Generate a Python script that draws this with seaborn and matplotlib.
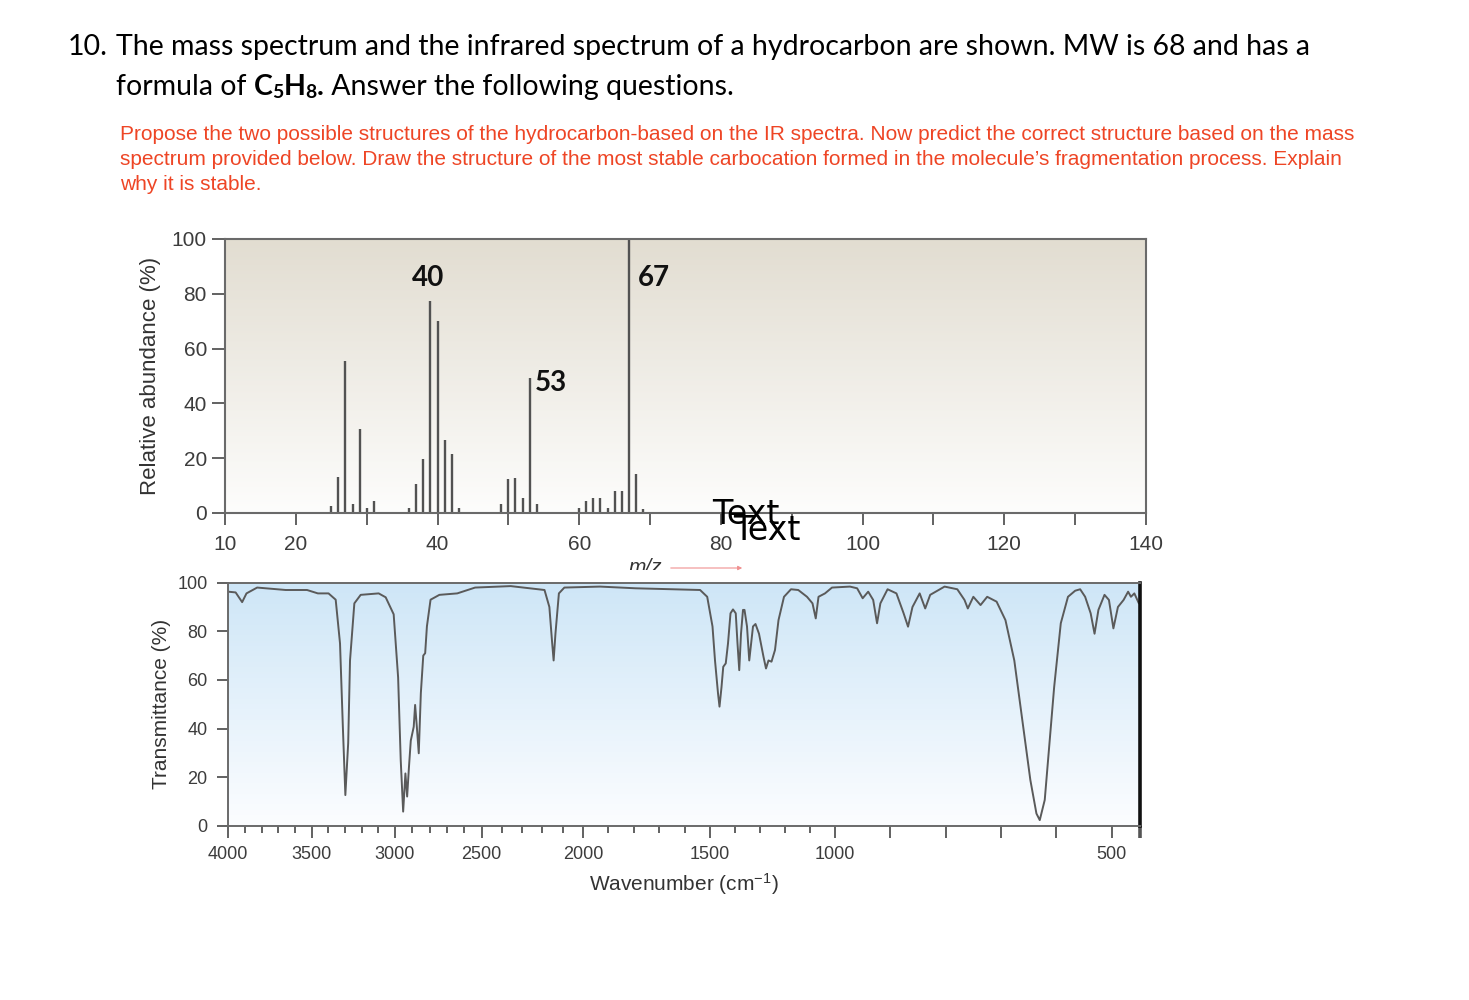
import numpy as np
import pandas as pd
import matplotlib
matplotlib.use("Agg")
import matplotlib.pyplot as plt
import seaborn as sns
from matplotlib.patches import Rectangle, FancyArrowPatch

# ---------------- data ----------------
ms_mz = [25, 26, 27, 28, 29, 30, 31,
         36, 37, 38, 39, 40, 41, 42, 43,
         49, 50, 51, 52, 53, 54,
         60, 61, 62, 63, 64, 65, 66, 67, 68, 69]
ms_abundance = [2.7, 13, 55.4, 3.2, 30.8, 1.9, 4.4,
                1.9, 10.6, 19.8, 77.5, 70.2, 26.5, 21.6, 1.9,
                3.2, 12.3, 12.9, 5.6, 49.2, 3.2,
                1.9, 4.4, 5.6, 5.6, 1.9, 8.1, 8.1, 100, 14.1, 1.3]
ms_xticks = [10, 20, 30, 40, 50, 60, 70, 80, 90, 100, 110, 120, 130, 140]
ms_xticklabels = ['10', '20', '', '40', '', '60', '', '80', '', '100', '', '120', '', '140']
ms_yticks = [0, 20, 40, 60, 80, 100]
ms_peak_labels = ['40', '53', '67']

ir_wavenumber = [4000, 3956, 3917, 3891, 3827, 3656, 3528, 3463, 3399, 3356,
                 3330, 3313, 3298, 3281, 3270, 3244, 3206, 3098, 3056, 3008,
                 2982, 2967, 2953, 2940, 2930, 2920, 2909, 2892, 2884, 2874,
                 2863, 2851, 2837, 2826, 2816, 2795, 2744, 2641, 2538, 2357,
                 2190, 2166, 2153, 2145, 2136, 2119, 2092, 1933, 1793, 1652,
                 1539, 1511, 1490, 1480, 1468, 1462, 1454, 1447, 1437, 1428,
                 1418, 1408, 1397, 1390, 1383, 1376, 1368, 1362, 1352, 1343,
                 1337, 1328, 1318, 1304, 1286, 1276, 1266, 1254, 1240, 1226,
                 1204, 1176, 1147, 1112, 1090, 1077, 1066, 1040, 1012, 973,
                 960, 950, 940, 931, 924, 918, 905, 889, 876, 868,
                 860, 847, 837, 828, 802, 779, 766, 760, 750, 737,
                 725, 708, 692, 676, 660, 647, 636, 630, 621, 613,
                 604, 592, 579, 566, 557, 548, 538, 531, 524, 513,
                 505, 497, 489, 479, 471, 466, 460, 452]
ir_transmittance = [96.3, 96, 92, 95.6, 98, 97, 97, 95.6, 95.6, 93,
                    75, 40.7, 12.6, 34, 68, 91.5, 95, 95.6, 94, 87,
                    61, 27, 5.8, 21.5, 12, 23.6, 35, 40.7, 49.7, 40.7,
                    29.8, 54.5, 70, 71, 82, 93, 95, 95.6, 98, 98.6,
                    97, 90, 76, 68, 79, 95.6, 98, 98.4, 97.7, 97.3,
                    97, 94.2, 82, 68, 54.5, 49, 57, 65.4, 66.8, 75,
                    87.4, 89, 87.4, 75, 64, 79, 88.8, 88.8, 82, 68,
                    73.7, 82, 83, 79, 69.5, 64.7, 68, 67.5, 72.3, 84.6,
                    94.2, 97.3, 97, 94.2, 91.5, 85.3, 94.2, 95.6, 98, 98.4,
                    97.7, 93.6, 96.3, 92.9, 83.3, 91.5, 97.3, 95.6, 87.4, 81.9,
                    90, 95.6, 89.4, 95, 98.4, 97.3, 92.9, 89.4, 94.2, 90.8,
                    94.2, 92.2, 84.6, 68, 40.7, 18.8, 5, 2.3, 10.6, 32.5,
                    57, 83.3, 94.2, 96.7, 97.3, 94.2, 87.4, 79, 88.8, 95,
                    92.9, 81.2, 90, 92.9, 96.3, 94.2, 95.6, 91.5]
ir_major_ticks = [4000, 3500, 3000, 2500, 2000, 1500, 1000, 900, 800, 700, 600, 500, 450]
ir_major_labels = ['4000', '3500', '3000', '2500', '2000', '1500', '1000', '', '', '', '', '500', '']
ir_minor_ticks = [w for w in range(1100, 4000, 100) if w % 500 != 0]
ir_yticks = [0, 20, 40, 60, 80, 100]

# ---------------- figure ----------------
sns.set_style("white")
plt.rcParams['font.family'] = ['Liberation Sans', 'DejaVu Sans']
plt.rcParams['mathtext.fontset'] = 'custom'
plt.rcParams['mathtext.rm'] = 'Liberation Sans'
plt.rcParams['mathtext.it'] = 'Liberation Sans:italic'
plt.rcParams['mathtext.bf'] = 'Liberation Sans:bold'

W, H = 1469, 1000
fig = plt.figure(figsize=(W / 100, H / 100), dpi=100)
fig.patch.set_facecolor('white')


def fx(px):
    return px / W


def fy(py):
    return 1 - py / H


def gradient_bg(box, top_rgb, bot_rgb):
    bg = fig.add_axes(box, zorder=0)
    g = np.linspace(0, 1, 256).reshape(-1, 1, 1)
    top = np.array(top_rgb, float).reshape(1, 1, 3) / 255
    bot = np.array(bot_rgb, float).reshape(1, 1, 3) / 255
    img = top * (1 - g) + bot * g
    bg.imshow(img, aspect='auto', extent=[0, 1, 0, 1], interpolation='bilinear')
    bg.set_axis_off()
    return bg


AX_GRAY = '#6a6a6a'
TICK_TXT = '#3c3c3c'

# ---------- mass spectrum ----------
ms_box = [fx(225), fy(513), fx(1146) - fx(225), fy(239) - fy(513)]
gradient_bg(ms_box, (226, 221, 209), (253, 253, 252))
ax1 = fig.add_axes(ms_box, zorder=1)
ax1.set_facecolor('none')
ax1.vlines(ms_mz, 0, ms_abundance, colors='#525252', linewidth=1.7, zorder=2)
ax1.set_xlim(10, 140)
ax1.set_ylim(0, 100)
ax1.set_xticks(ms_xticks, labels=ms_xticklabels)
ax1.set_yticks(ms_yticks)
for sp in ax1.spines.values():
    sp.set_visible(True)
    sp.set_color(AX_GRAY)
    sp.set_linewidth(1.5)
ax1.tick_params(axis='x', direction='out', length=8.5, width=1.3, color='#555555',
                labelsize=15, labelcolor=TICK_TXT, pad=7, bottom=True)
ax1.tick_params(axis='y', direction='out', length=9.5, width=1.3, color='#555555',
                labelsize=15, labelcolor=TICK_TXT, pad=3.5, left=True)
ax1.set_ylabel('Relative abundance (%)', fontsize=16, color='#333333')
ax1.yaxis.set_label_coords(-0.0695, 0.5)

lab_font = dict(family=['Lato', 'DejaVu Sans'], fontweight='bold', fontsize=20, color='#111111')
ax1.text(38.65, 85.8, ms_peak_labels[0], ha='center', va='center', **lab_font)
ax1.text(53.75, 47.3, ms_peak_labels[1], ha='left', va='center', **lab_font)
ax1.text(68.3, 85.8, ms_peak_labels[2], ha='left', va='center', **lab_font)

# ---------- IR spectrum ----------
ir_box = [fx(228.3), fy(825.7), fx(1140) - fx(228.3), fy(582.7) - fy(825.7)]
gradient_bg(ir_box, (206, 230, 247), (252, 253, 255))
ax2 = fig.add_axes(ir_box, zorder=1)
ax2.set_facecolor('none')

ir_df = pd.DataFrame({'Wavenumber': ir_wavenumber, 'Transmittance': ir_transmittance})
sns.lineplot(data=ir_df, x='Wavenumber', y='Transmittance', ax=ax2, sort=False,
             estimator=None, color='#5a5a5a', linewidth=1.4)

# piecewise-linear wavenumber axis as printed in the reference
wn_bp = np.array([450, 500, 1000, 1500, 2000, 2500, 3000, 3500, 4000], float)
pos_bp = -np.array([1140, 1111.7, 835, 710, 583, 481.7, 395, 311.7, 228.3], float)


def interp_ext(x, xp, fp):
    x = np.asarray(x, float)
    y = np.interp(x, xp, fp)
    y = np.where(x < xp[0], fp[0] + (x - xp[0]) * (fp[1] - fp[0]) / (xp[1] - xp[0]), y)
    y = np.where(x > xp[-1], fp[-1] + (x - xp[-1]) * (fp[-1] - fp[-2]) / (xp[-1] - xp[-2]), y)
    return y


def fwd(w):
    return interp_ext(w, wn_bp, pos_bp)


def inv(p):
    return interp_ext(p, pos_bp, wn_bp)


ax2.set_xscale('function', functions=(fwd, inv))
ax2.set_xlim(4000, 450)
ax2.set_ylim(0, 100)
ax2.set_xticks(ir_major_ticks, labels=ir_major_labels)
ax2.set_xticks(ir_minor_ticks, minor=True)
ax2.set_yticks(ir_yticks)
for name, sp in ax2.spines.items():
    sp.set_visible(True)
    sp.set_color(AX_GRAY)
    sp.set_linewidth(1.4)
ax2.spines['right'].set_color('#111111')
ax2.spines['right'].set_linewidth(2.6)
ax2.tick_params(axis='x', which='major', direction='out', length=8.5, width=1.3,
                color='#555555', labelsize=13, labelcolor=TICK_TXT, pad=6, bottom=True)
ax2.tick_params(axis='x', which='minor', direction='out', length=5, width=1.3,
                color='#555555', bottom=True)
ax2.tick_params(axis='y', direction='out', length=8, width=1.3, color='#555555',
                labelsize=13, labelcolor=TICK_TXT, pad=7, left=True)
last = ax2.xaxis.get_major_ticks()[-1]
last.tick1line.set_color('#111111')
last.tick1line.set_markeredgewidth(2.6)
ax2.set_xlabel('Wavenumber (cm$^{-1}$)', fontsize=15, color='#333333')
ax2.xaxis.set_label_coords(0.5, -0.185)
ax2.set_ylabel('Transmittance (%)', fontsize=15, color='#333333')
ax2.yaxis.set_label_coords(-0.063, 0.5)

# ---------- leftover labels between the plots ----------
fig.text(fx(645), fy(573), 'm/z', fontsize=15, style='italic', color='#333333',
         ha='center', va='baseline', zorder=3)
fig.patches.append(Rectangle((fx(560), fy(581)), fx(200), fy(570) - fy(581),
                             transform=fig.transFigure, facecolor='white',
                             edgecolor='none', zorder=5))
fig.patches.append(FancyArrowPatch((fx(668), fy(568)), (fx(745), fy(568)),
                                   transform=fig.transFigure, arrowstyle='-|>',
                                   mutation_scale=6, color='#f09090', lw=0.8, zorder=6))
fig.text(fx(712), fy(524), 'Text', fontsize=24, family='DejaVu Sans', color='black',
         ha='left', va='baseline', zorder=7)
fig.text(fx(733), fy(540), 'Text', fontsize=24, family='DejaVu Sans', color='black',
         ha='left', va='baseline', zorder=7)

# ---------- heading text ----------
renderer = fig.canvas.get_renderer()


def width_of(s, **kw):
    t = fig.text(0, 0, s + '|', **kw)
    t2 = fig.text(0, 0, '|', **kw)
    w = t.get_window_extent(renderer).width - t2.get_window_extent(renderer).width
    t.remove()
    t2.remove()
    return w


blk = dict(family=['Lato', 'DejaVu Sans'], color='black')
line1 = 'The mass spectrum and the infrared spectrum of a hydrocarbon are shown. MW is 68 and has a'
base = 20.0
size_blk = base * 1194 / width_of(line1, fontsize=base, **blk)
fig.text(fx(68), fy(55), '10.', fontsize=size_blk, va='baseline', ha='left', **blk)
fig.text(fx(116), fy(55), line1, fontsize=size_blk, va='baseline', ha='left', **blk)

pieces = [('formula of ', {}, 0, 1.0),
          ('C', {'fontweight': 'bold'}, 0, 1.0),
          ('5', {'fontweight': 'bold'}, 3, 0.68),
          ('H', {'fontweight': 'bold'}, 0, 1.0),
          ('8', {'fontweight': 'bold'}, 3, 0.68),
          ('.', {'fontweight': 'bold'}, 0, 1.0),
          (' Answer the following questions.', {}, 0, 1.0)]
x = 116
for s, extra, dy, sc in pieces:
    kw = dict(blk)
    kw.update(extra)
    fig.text(fx(x), fy(95 + dy), s, fontsize=size_blk * sc, va='baseline', ha='left', **kw)
    x += width_of(s, fontsize=size_blk * sc, **kw)

red = dict(family=['Liberation Sans', 'DejaVu Sans'], color='#ee4525')
r1 = 'Propose the two possible structures of the hydrocarbon-based on the IR spectra. Now predict the correct structure based on the mass'
r2 = 'spectrum provided below. Draw the structure of the most stable carbocation formed in the molecule\u2019s fragmentation process. Explain'
r3 = 'why it is stable.'
size_red = base * 1231 / width_of(r1, fontsize=base, **red)
for s, yb in [(r1, 140), (r2, 165), (r3, 190)]:
    fig.text(fx(120), fy(yb), s, fontsize=size_red, va='baseline', ha='left', **red)

fig.savefig('out.png', dpi=100, facecolor='white')
